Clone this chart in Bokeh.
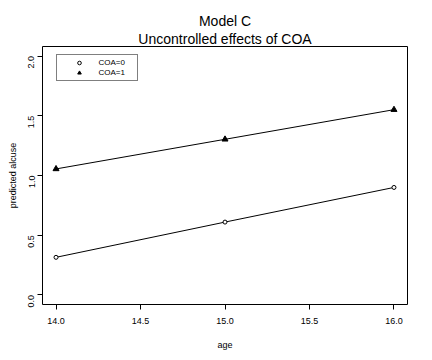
import math
from bokeh.plotting import figure
from bokeh.models import (Range1d, FixedTicker, PrintfTickFormatter, Title,
                          Legend, LegendItem)
from bokeh.embed import file_html
from bokeh.resources import INLINE

# data
age = [14.0, 15.0, 16.0]
coa0 = [0.315, 0.61, 0.90]
coa1 = [1.055, 1.303, 1.551]
x_ticks = [14.0, 14.5, 15.0, 15.5, 16.0]
y_ticks = [0.0, 0.5, 1.0, 1.5, 2.0]
series_labels = ["COA=0", "COA=1"]

FONT = "Liberation Sans"

p = figure(width=424, height=352, output_backend="svg", toolbar_location=None,
           x_range=Range1d(13.92, 16.08), y_range=Range1d(-0.08, 2.08),
           min_border_left=42, min_border_right=17, min_border_top=46,
           min_border_bottom=46)
p.grid.visible = False
p.outline_line_color = "black"
p.outline_line_width = 1
p.background_fill_color = "white"
p.border_fill_color = "white"

# titles: p.title is outermost, added titles sit closer to the frame
p.title.text = "Model C"
p.title.align = "center"
p.title.text_font = FONT
p.title.text_font_size = "14px"
p.title.text_font_style = "normal"
p.title.text_color = "black"
p.title.standoff = 0
p.title.text_line_height = 0.9
p.add_layout(Title(text="Uncontrolled effects of COA", align="center",
                   text_font=FONT, text_font_size="14px",
                   text_font_style="normal", text_color="black", standoff=0,
                   text_line_height=0.7), "above")

for ax in (p.xaxis[0], p.yaxis[0]):
    ax.axis_line_color = None
    ax.major_tick_line_color = "black"
    ax.major_tick_out = 5
    ax.major_tick_in = 0
    ax.minor_tick_line_color = None
    ax.major_label_text_font = FONT
    ax.major_label_text_font_size = "9px"
    ax.major_label_text_color = "black"
    ax.axis_label_text_font = FONT
    ax.axis_label_text_font_size = "9px"
    ax.axis_label_text_font_style = "normal"
    ax.axis_label_text_color = "black"
    ax.formatter = PrintfTickFormatter(format="%.1f")

p.xaxis.ticker = FixedTicker(ticks=x_ticks)
p.yaxis.ticker = FixedTicker(ticks=y_ticks)
p.xaxis.axis_label = "age"
p.yaxis.axis_label = "predicted alcuse"
p.xaxis.major_label_standoff = 8
p.xaxis.axis_label_standoff = 13
p.yaxis.major_label_standoff = 6
p.yaxis.axis_label_standoff = 5
p.yaxis.major_label_orientation = math.pi / 2

p.line(age, coa0, line_color="black", line_width=1)
p.line(age, coa1, line_color="black", line_width=1)
r0 = p.scatter(age, coa0, marker="circle", size=4, line_color="black",
               fill_color="white", line_width=1)
r1 = p.scatter(age, coa1, marker="triangle", size=6, line_color="black",
               fill_color="black", line_width=1)

legend = Legend(items=[LegendItem(label=series_labels[0], renderers=[r0]),
                       LegendItem(label=series_labels[1], renderers=[r1])],
                location=(13.5, 223), margin=0, padding=3, spacing=1,
                glyph_width=38, glyph_height=9, label_height=9,
                label_width=35, label_standoff=1,
                label_text_font=FONT, label_text_font_size="8px",
                label_text_color="black",
                border_line_color="black", border_line_width=1,
                background_fill_alpha=1.0)
p.add_layout(legend)

open("out.html", "w").write(file_html(p, INLINE))
